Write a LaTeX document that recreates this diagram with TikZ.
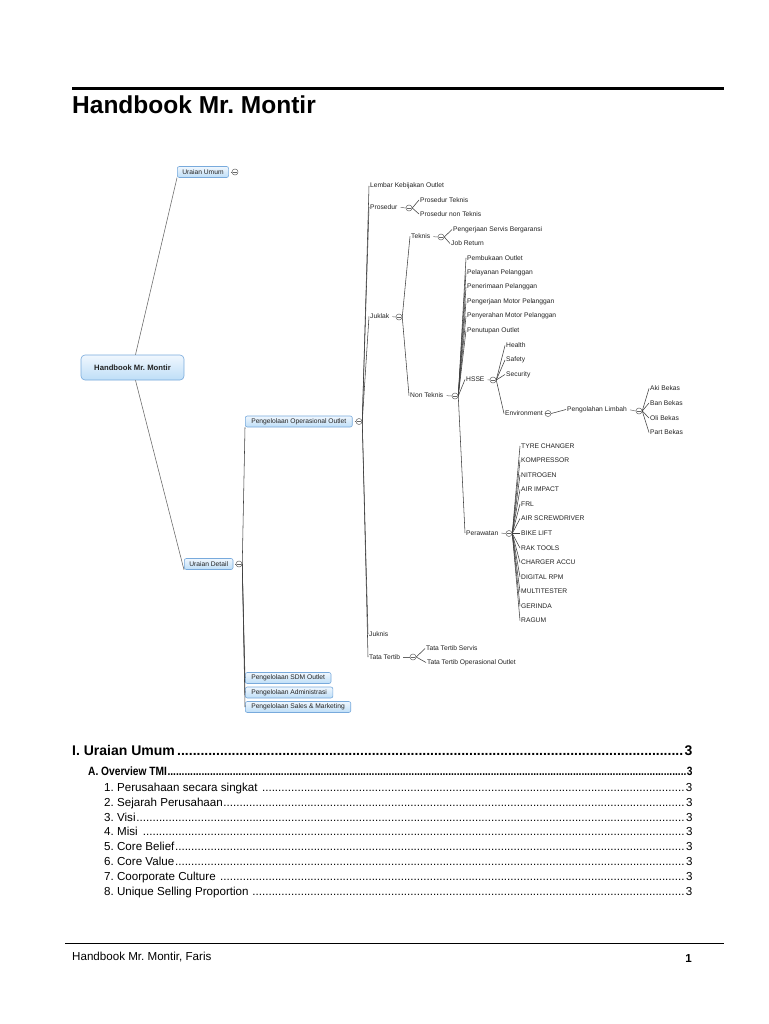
\documentclass[tikz,border=0pt]{standalone}
\usepackage{fontspec}
\setmainfont{Liberation Sans}
\newfontfamily\narrowsans[FakeStretch=0.85]{Liberation Sans}
\frenchspacing
\definecolor{boxline}{RGB}{120,170,220}
\definecolor{boxtop}{RGB}{240,247,254}
\definecolor{boxbot}{RGB}{190,222,247}
\definecolor{mmtext}{RGB}{35,35,35}
\newcommand\tocleader{\leaders\hbox{.}\hfill}
\begin{document}
\begin{tikzpicture}[x=1pt,y=-1pt,
  every node/.style={font=\fontsize{6.7}{8}\selectfont, text=mmtext},
  lf/.style={anchor=west, inner sep=1pt},
  box/.style={draw=boxline, line width=0.6pt, rounded corners=2pt, top color=boxtop, bottom color=boxbot, inner xsep=6pt, inner ysep=1.5pt, minimum height=11pt, anchor=west},
  tog/.style={circle, draw=black!60, line width=0.5pt, fill=white, minimum size=6pt, inner sep=0pt,
    path picture={\draw[black!60, line width=0.5pt] ([xshift=-1.7pt]path picture bounding box.center) -- ([xshift=1.7pt]path picture bounding box.center);}},
  br/.style={draw=black!75, line width=0.55pt},
  stub/.style={draw=black!60, line width=0.5pt, shorten <=2pt},
  toc/.style={anchor=base west, inner sep=0pt, text=black}
]
\fill[white] (0,0) rectangle (768,1024);
\useasboundingbox (0,0) rectangle (768,1024);

% header
\draw[line width=3pt] (72,89) -- (724,89);
\node[anchor=base west, inner sep=0pt, text=black, font=\fontsize{24.5}{28}\selectfont\bfseries] (title) at (72,114) {Handbook Mr. Montir};

% central
\node[box, anchor=center, minimum width=103pt, minimum height=25pt, rounded corners=4pt, font=\fontsize{7.7}{9}\selectfont\bfseries] (hb) at (132.5,367.5) {Handbook Mr. Montir};

\node[box, inner xsep=5pt] (uu) at (177,172) {Uraian Umum};
\node[tog] (uut) at (235,172) {};
\node[box, inner xsep=5pt] (ud) at (184,564) {Uraian Detail};
\node[tog] (udt) at (239,564) {};
\draw[br, draw=black!60] ([xshift=3pt]hb.north) -- (uu.south west);
\draw[br, draw=black!60] ([xshift=3pt]hb.south) -- (ud.south west);
\draw[stub] (uu.east) -- (uut.west);
\draw[stub] (ud.east) -- (udt.west);

% level 2 boxes
\node[box] (poo) at (245,421.5) {Pengelolaan Operasional Outlet};
\node[tog] (poot) at (359,421.5) {};
\node[box] (sdm) at (245,678) {Pengelolaan SDM Outlet};
\node[box] (adm) at (245,692.5) {Pengelolaan Administrasi};
\node[box] (sal) at (245,707) {Pengelolaan Sales \& Marketing};
\draw[stub] (poo.east) -- (poot.west);
\draw[br] (udt.east) -- (poo.south west);
\draw[br] (udt.east) -- (sdm.west);
\draw[br] (udt.east) -- (adm.west);
\draw[br] (udt.east) -- (sal.west);

% level 3
\node[lf] (lko) at (369,186) {Lembar Kebijakan Outlet};
\node[lf] (pro) at (369,207) {Prosedur};
\node[lf] (juk) at (369,316.5) {Juklak};
\node[lf] (jns) at (368,634) {Juknis};
\node[lf] (tt) at (368,657) {Tata Tertib};
\foreach \n in {lko,pro,juk,jns,tt} \draw[br] (poot.east) -- (\n.west);

% Prosedur
\node[tog] (prot) at (409,208) {};
\draw[stub] (pro.east) -- (prot.west);
\node[lf] (prt) at (419,200) {Prosedur Teknis};
\node[lf] (prn) at (419,214) {Prosedur non Teknis};
\draw[br] (prot.east) -- (prt.west);
\draw[br] (prot.east) -- (prn.west);

% Juklak
\node[tog] (jukt) at (399,317) {};
\draw[stub] (juk.east) -- (jukt.west);
\node[lf] (tek) at (410,236.5) {Teknis};
\node[lf] (ntk) at (409,395.5) {Non Teknis};
\draw[br] (jukt.east) -- (tek.west);
\draw[br] (jukt.east) -- (ntk.west);

% Teknis
\node[tog] (tekt) at (441,237) {};
\draw[stub] (tek.east) -- (tekt.west);
\node[lf] (psb) at (452,229.5) {Pengerjaan Servis Bergaransi};
\node[lf] (jr) at (450,243.5) {Job Return};
\draw[br] (tekt.east) -- (psb.west);
\draw[br] (tekt.east) -- (jr.west);

% Non Teknis
\node[tog] (ntkt) at (455,396) {};
\draw[stub] (ntk.east) -- (ntkt.west);
\node[lf] (n1) at (466,258) {Pembukaan Outlet};
\node[lf] (n2) at (466,272.5) {Pelayanan Pelanggan};
\node[lf] (n3) at (466,287) {Penerimaan Pelanggan};
\node[lf] (n4) at (466,301.5) {Pengerjaan Motor Pelanggan};
\node[lf] (n5) at (466,316) {Penyerahan Motor Pelanggan};
\node[lf] (n6) at (466,330.5) {Penutupan Outlet};
\node[lf] (hsse) at (465,379.5) {HSSE};
\node[lf] (raw) at (465,533) {Perawatan};
\foreach \n in {n1,n2,n3,n4,n5,n6,hsse,raw} \draw[br] (ntkt.east) -- (\n.west);

% HSSE
\node[tog] (hsset) at (493,380) {};
\draw[stub] (hsse.east) -- (hsset.west);
\node[lf] (h1) at (505,345.5) {Health};
\node[lf] (h2) at (505,360) {Safety};
\node[lf] (h3) at (505,374.5) {Security};
\node[lf] (env) at (504,413.5) {Environment};
\foreach \n in {h1,h2,h3,env} \draw[br] (hsset.east) -- (\n.west);

% Environment
\node[tog] (envt) at (548,413.5) {};
\draw[stub] (env.east) -- (envt.west);
\node[lf] (pl) at (566,409.5) {Pengolahan Limbah};
\draw[br] (envt.east) -- (pl.west);
\node[tog] (plt) at (639,411) {};
\draw[stub] (pl.east) -- (plt.west);
\node[lf] (b1) at (649,388.5) {Aki Bekas};
\node[lf] (b2) at (649,403) {Ban Bekas};
\node[lf] (b3) at (649,418) {Oli Bekas};
\node[lf] (b4) at (649,432.5) {Part Bekas};
\foreach \n in {b1,b2,b3,b4} \draw[br] (plt.east) -- (\n.west);

% Perawatan
\node[tog] (rawt) at (509,533.5) {};
\draw[stub] (raw.east) -- (rawt.west);
\node[lf] (r1) at (520,446) {TYRE CHANGER};
\node[lf] (r2) at (520,460.5) {KOMPRESSOR};
\node[lf] (r3) at (520,475) {NITROGEN};
\node[lf] (r4) at (520,489.5) {AIR IMPACT};
\node[lf] (r5) at (520,504) {FRL};
\node[lf] (r6) at (520,518.5) {AIR SCREWDRIVER};
\node[lf] (r7) at (520,533.5) {BIKE LIFT};
\node[lf] (r8) at (520,548) {RAK TOOLS};
\node[lf] (r9) at (520,562.5) {CHARGER ACCU};
\node[lf] (r10) at (520,577) {DIGITAL RPM};
\node[lf] (r11) at (520,591.5) {MULTITESTER};
\node[lf] (r12) at (520,606) {GERINDA};
\node[lf] (r13) at (520,620.5) {RAGUM};
\foreach \n in {r1,r2,r3,r4,r5,r6,r7,r8,r9,r10,r11,r12,r13} \draw[br] (rawt.east) -- (\n.west);

% Tata Tertib
\node[tog] (ttt) at (413,657) {};
\draw[stub] (tt.east) -- (ttt.west);
\node[lf] (tts) at (425,648.5) {Tata Tertib Servis};
\node[lf] (tto) at (426,662.5) {Tata Tertib Operasional Outlet};
\draw[br] (ttt.east) -- (tts.west);
\draw[br] (ttt.east) -- (tto.west);

% table of contents
\node[toc, font=\fontsize{14}{16}\selectfont\bfseries] (c0) at (72,755) {\makebox[620pt][l]{I. Uraian Umum\tocleader 3}};
\node[toc, font=\narrowsans\fontsize{12}{14}\selectfont\bfseries] (c1) at (88,775.5) {\makebox[604pt][l]{A. Overview TMI\tocleader 3}};
\node[toc, font=\fontsize{11.6}{13}\selectfont] (c2) at (104,791.5) {\makebox[588pt][l]{1. Perusahaan secara singkat \tocleader 3}};
\node[toc, font=\fontsize{11.6}{13}\selectfont] (c3) at (104,806) {\makebox[588pt][l]{2. Sejarah Perusahaan\tocleader 3}};
\node[toc, font=\fontsize{11.6}{13}\selectfont] (c4) at (104,821) {\makebox[588pt][l]{3. Visi\tocleader 3}};
\node[toc, font=\fontsize{11.6}{13}\selectfont] (c5) at (104,835.5) {\makebox[588pt][l]{4. Misi \tocleader 3}};
\node[toc, font=\fontsize{11.6}{13}\selectfont] (c6) at (104,850) {\makebox[588pt][l]{5. Core Belief\tocleader 3}};
\node[toc, font=\fontsize{11.6}{13}\selectfont] (c7) at (104,865) {\makebox[588pt][l]{6. Core Value\tocleader 3}};
\node[toc, font=\fontsize{11.6}{13}\selectfont] (c8) at (104,880) {\makebox[588pt][l]{7. Coorporate Culture \tocleader 3}};
\node[toc, font=\fontsize{11.6}{13}\selectfont] (c9) at (104,895) {\makebox[588pt][l]{8. Unique Selling Proportion \tocleader 3}};

% footer
\draw[line width=0.8pt] (65,943) -- (724,943);
\node[toc, font=\fontsize{11.6}{13}\selectfont] (ft) at (72,960) {Handbook Mr. Montir, Faris};
\node[anchor=base east, inner sep=0pt, text=black, font=\fontsize{11.6}{13}\selectfont\bfseries] (pg) at (692,962) {1};
\end{tikzpicture}
\end{document}
